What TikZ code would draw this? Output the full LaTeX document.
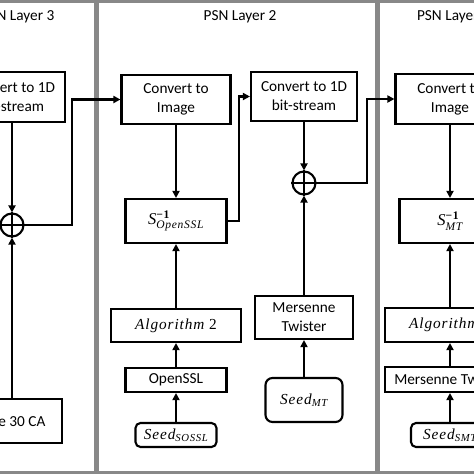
\documentclass[tikz,border=0pt]{standalone}
\usepackage{amsmath}
\usepackage{fontspec}
\setmainfont{Carlito}
\newfontfamily\mserif[LetterSpace=6]{Liberation Serif}
\newcommand{\mi}[1]{\text{\mserif\itshape #1}}
\newcommand{\mr}[1]{\text{\mserif\bfseries #1}}
\usetikzlibrary{arrows.meta}
\definecolor{sepgray}{RGB}{136,136,136}
\begin{document}
\begin{tikzpicture}[x=1pt,y=-1pt,line width=2.1pt,
  every node/.style={font=\fontsize{15.3}{19}\selectfont},
  box/.style={draw,rectangle,inner sep=0pt,align=center},
  sbox/.style={box,font=\fontsize{16.5}{19}\selectfont},
  seedbox/.style={box,rounded corners=5pt},
  xor/.style={draw,circle,inner sep=0pt,minimum size=23pt},
  arr/.style={-{Triangle[length=7pt,width=7pt]}},
  title/.style={inner sep=0pt}]
\useasboundingbox (0,0) rectangle (474,474);
\clip (0,0) rectangle (474,474);
% panels
\fill[sepgray] (0,0) rectangle (474,474);
\fill[white] (-10,2.5) rectangle (93.5,470.5);
\fill[white] (99,2.5) rectangle (375,470.5);
\fill[white] (380,2.5) rectangle (490,470.5);
% titles
\node[title] (t3) at (18,17) {PSN Layer 3};
\node[title] (t2) at (240,17) {PSN Layer 2};
\node[title,anchor=west] (t1) at (416,17) {PSN Layer 1};
% panel 1 (layer 3)
\node[box,minimum width=106pt,minimum height=50pt] (c1d3) at (12,97) {Convert to 1D\\bit-stream};
\node[xor] (x3) at (12,225) {};
\draw[line width=1.7pt] (x3.north) -- (x3.south) (x3.west) -- (x3.east);
\node[box,minimum width=100pt,minimum height=44pt] (rule) at (12,421) {Rule 30 CA};
% panel 2 (layer 2)
\node[box,minimum width=109pt,minimum height=49pt] (img2) at (176,99.5) {Convert to\\Image};
\node[sbox,minimum width=101pt,minimum height=44pt] (sos) at (176,221) {$\mi{S}^{\mr{−1}}_{\mi{OpenSSL}}$};
\node[box,minimum width=130pt,minimum height=33pt] (alg2) at (176,325.5) {\mserif\itshape Algorithm \upshape 2};
\node[box,minimum width=101pt,minimum height=24pt] (ossl) at (176,380) {OpenSSL};
\node[seedbox,minimum width=81pt,minimum height=24pt] (seedos) at (176,435) {$\mi{Seed}_{\mi{SOSSL}}$};
\node[box,minimum width=106pt,minimum height=49pt] (c1d2) at (304,96.5) {Convert to 1D\\bit-stream};
\node[xor] (x2) at (304,183) {};
\draw[line width=1.7pt] (x2.north) -- (x2.south) (x2.west) -- (x2.east);
\node[box,minimum width=98pt,minimum height=43pt] (mt2) at (304,317.5) {Mersenne\\Twister};
\node[seedbox,minimum width=77pt,minimum height=44pt,rounded corners=7pt] (seedmt) at (304,400) {$\mi{Seed}_{\mi{MT}}$};
% panel 3 (layer 1)
\node[box,minimum width=109pt,minimum height=50pt] (img3) at (450,99) {Convert to\\Image};
\node[sbox,minimum width=101pt,minimum height=44pt] (smt) at (450,221) {$\mi{S}^{\mr{−1}}_{\mi{MT}}$};
\node[box,minimum width=130pt,minimum height=34pt] (alg3) at (450,325) {\mserif\itshape Algorithm \upshape 2};
\node[box,minimum width=130pt,minimum height=25pt] (mt3) at (450,379.5) {Mersenne Twister};
\node[seedbox,minimum width=78pt,minimum height=24pt] (seedsmt) at (450,435) {$\mi{Seed}_{\mi{SMT}}$};
% connectors
\draw[arr] (c1d3) -- (x3.north);
\draw[arr] (rule) -- (x3.south);
\draw[arr] (x3.east) -- ++(47,0) |- (img2.west);
\draw[arr] (img2) -- (sos);
\draw[arr] (alg2) -- (sos);
\draw[arr] (ossl) -- (alg2);
\draw[arr] (seedos) -- (ossl);
\draw[arr] (sos.east) -- ++(11,0) |- (c1d2.west);
\draw[arr] (c1d2) -- (x2.north);
\draw[arr] (mt2) -- (x2.south);
\draw[arr] (seedmt) -- (mt2);
\draw[arr] (x2.east) -- ++(50,0) |- (img3.west);
\draw[arr] (img3) -- (smt);
\draw[arr] (alg3) -- (smt);
\draw[arr] (mt3) -- (alg3);
\draw[arr] (seedsmt) -- (mt3);
\end{tikzpicture}
\end{document}
